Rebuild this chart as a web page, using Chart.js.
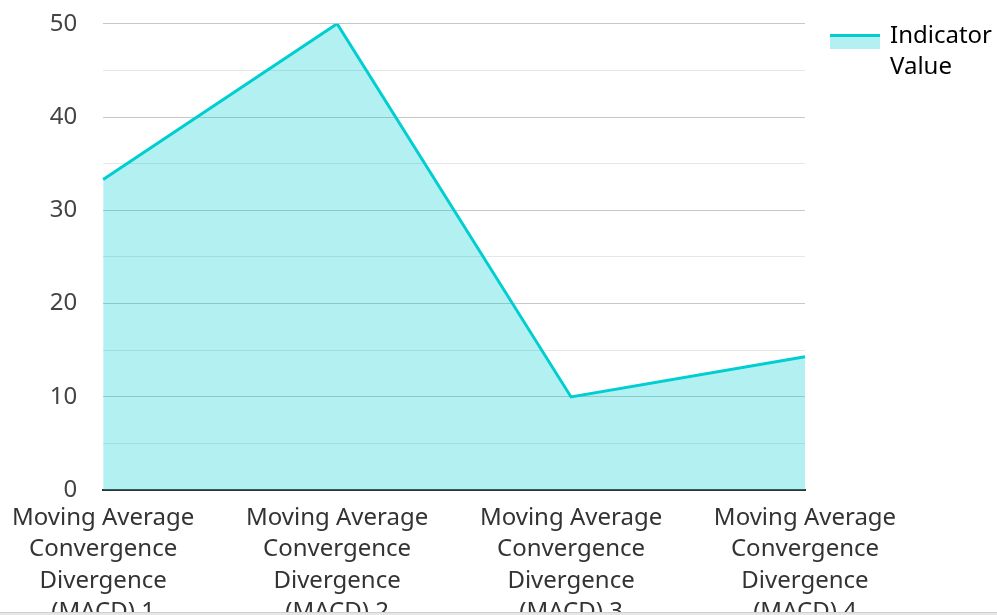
<!DOCTYPE html>
<html>
<head>
<meta charset="utf-8">
<script src="https://cdn.jsdelivr.net/npm/chart.js@4"></script>
<style>
  html, body { margin: 0; padding: 0; background: #fff; overflow: hidden; }
  #wrap { position: relative; width: 1002px; height: 640px; }
  #strip { position: fixed; left: 0; top: 612px; width: 997px; height: 3px; background: #e6e6e6; border-top: 1px solid #d0d0d0; }
</style>
</head>
<body>
<div id="wrap"><canvas id="c"></canvas></div>
<div id="strip"></div>
<script>
const categories = [
  ['Moving Average', 'Convergence', 'Divergence', '(MACD) 1'],
  ['Moving Average', 'Convergence', 'Divergence', '(MACD) 2'],
  ['Moving Average', 'Convergence', 'Divergence', '(MACD) 3'],
  ['Moving Average', 'Convergence', 'Divergence', '(MACD) 4']
];
const seriesLabel = ['Indicator', 'Value'];
const indicatorValues = [33.3, 50, 10, 14.3];
const yTickValues = [0, 10, 20, 30, 40, 50];

const LINE = '#00CED1';
const FILL = 'rgba(0, 206, 209, 0.3)';
const FONT = 'Noto Sans';

const legendBox = {
  id: 'legendBox',
  afterDraw(chart) {
    const lg = chart.legend;
    if (!lg || !lg.legendHitBoxes || !lg.legendHitBoxes.length) return;
    const hb = lg.legendHitBoxes[0];
    const ctx = chart.ctx;
    const x = hb.left, y = hb.top + 10;
    ctx.save();
    ctx.fillStyle = FILL;
    ctx.fillRect(x, y, 50, 15);
    ctx.fillStyle = LINE;
    ctx.fillRect(x, y, 50, 3);
    ctx.restore();
  }
};

new Chart(document.getElementById('c'), {
  type: 'line',
  data: {
    labels: categories,
    datasets: [{
      label: seriesLabel.join(' '),
      data: indicatorValues,
      borderColor: LINE,
      backgroundColor: FILL,
      borderWidth: 3,
      fill: 'origin',
      tension: 0,
      pointRadius: 0,
      pointHoverRadius: 0
    }]
  },
  options: {
    responsive: true,
    maintainAspectRatio: false,
    animation: false,
    layout: { padding: { top: -1, right: 0, left: 0, bottom: 0 } },
    plugins: {
      tooltip: { enabled: false },
      legend: {
        position: 'right',
        align: 'start',
        labels: {
          color: '#333',
          font: { family: FONT, size: 24, lineHeight: 1.31 },
          boxWidth: 48,
          boxHeight: 15,
          padding: 25,
          generateLabels() {
            return [{
              text: seriesLabel,
              fillStyle: 'rgba(0,0,0,0)',
              strokeStyle: 'rgba(0,0,0,0)',
              lineWidth: 0,
              hidden: false,
              datasetIndex: 0
            }];
          }
        }
      }
    },
    scales: {
      x: {
        offset: false,
        grid: { display: false, drawTicks: false },
        border: { display: true, color: '#333', width: 2 },
        ticks: {
          color: '#333',
          font: { family: FONT, size: 24, lineHeight: 1.31 },
          padding: 12,
          maxRotation: 0,
          autoSkip: false
        }
      },
      y: {
        min: 0,
        max: 50,
        grid: {
          drawTicks: true,
          tickLength: 18,
          tickColor: 'rgba(0,0,0,0)',
          color: (c) => (c.tick && c.tick.value % 10 === 0) ? '#c8c8c8' : '#e6e6e6',
          lineWidth: 1
        },
        border: { display: false },
        ticks: {
          stepSize: 5,
          color: '#444',
          padding: 8,
          font: { family: FONT, size: 24, lineHeight: 1.31 },
          callback: (v) => yTickValues.includes(v) ? String(v) : ''
        }
      }
    }
  },
  plugins: [legendBox]
});
</script>
</body>
</html>
